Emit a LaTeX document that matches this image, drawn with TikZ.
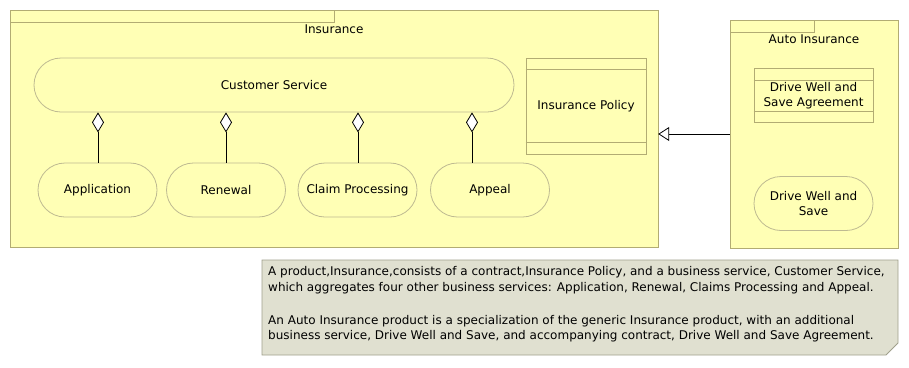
\documentclass[tikz,border=0pt]{standalone}
\usepackage{fontspec}
\setmainfont{DejaVu Sans}
\usetikzlibrary{arrows.meta,calc}
\definecolor{yfill}{RGB}{255,255,181}
\definecolor{yline}{RGB}{178,172,115}
\definecolor{oline}{RGB}{190,186,145}
\definecolor{nfill}{RGB}{224,224,208}
\definecolor{nline}{RGB}{160,160,140}
\tikzset{
  x=1pt, y=-1pt,
  every node/.style={font=\fontsize{12}{15}\selectfont, inner sep=0pt},
  frame/.style={draw=yline, fill=yfill, line width=0.8pt},
  svc/.style={draw=oline, fill=yfill, line width=0.8pt, rectangle, rounded corners=27pt, minimum height=54pt},
  contract/.style={draw=yline, fill=yfill, line width=0.8pt, rectangle},
  agg/.style={line width=0.8pt, {Diamond[open, fill=white, length=20pt, width=12pt]}-},
  gen/.style={line width=0.8pt, -{Triangle[open, fill=white, length=11pt, width=14pt]}},
  notebox/.style={draw=nline, fill=nfill, line width=0.8pt}
}
\begin{document}
\begin{tikzpicture}
\useasboundingbox (0,0) rectangle (909,367);
% Insurance frame
\draw[frame] (10,10) rectangle (658,247);
\draw[frame] (10,10) rectangle (334,22);
\node (ins) at (334,128.5) [minimum width=648pt, minimum height=237pt] {};
\node (inslbl) at (334,29) {Insurance};
% Auto insurance frame
\draw[frame] (730,20) rectangle (898,248);
\draw[frame] (730,20) rectangle (814,32);
\node (auto) at (814,134) [minimum width=168pt, minimum height=228pt] {};
\node (autolbl) at (814,39.5) {Auto Insurance};
% Customer service
\node[svc, minimum width=480pt] (cs) at (274,85) {\raisebox{-1pt}{Customer Service}};
% Sub services
\node[svc, minimum width=119pt] (app) at (97.5,190) {\raisebox{-1pt}{Application}};
\node[svc, minimum width=119pt] (ren) at (226,190) {\raisebox{-1pt}{Renewal}};
\node[svc, minimum width=119pt] (clm) at (357.5,190) {\raisebox{-1pt}{Claim Processing}};
\node[svc, minimum width=119pt] (apl) at (490,190) {\raisebox{-1pt}{Appeal}};
% Insurance Policy contract
\node[contract, minimum width=120pt, minimum height=96pt] (pol) at (586,106) {\raisebox{-1pt}{Insurance Policy}};
\draw[yline, line width=0.8pt] ([yshift=-12pt]pol.north west) -- ([yshift=-12pt]pol.north east);
\draw[yline, line width=0.8pt] ([yshift=12pt]pol.south west) -- ([yshift=12pt]pol.south east);
% Drive Well and Save Agreement
\node[contract, minimum width=119pt, minimum height=54pt, align=center] (agr) at (813.5,95.5) {Drive Well and\\Save Agreement};
\draw[yline, line width=0.8pt] ([yshift=-12pt]agr.north west) -- ([yshift=-12pt]agr.north east);
\draw[yline, line width=0.8pt] ([yshift=12pt]agr.south west) -- ([yshift=12pt]agr.south east);
% Drive Well and Save service
\node[svc, minimum width=119pt, align=center] (dws) at (813.5,203.5) {Drive Well and\\Save};
% Aggregations
\draw[agg] (cs.south -| 98,0) -- (app.north -| 98,0);
\draw[agg] (cs.south -| ren.north) -- (ren.north);
\draw[agg] (cs.south -| 358,0) -- (clm.north -| 358,0);
\draw[agg] (cs.south -| 472,0) -- (apl.north -| 472,0);
% Generalization
\draw[gen] (auto.west) -- (auto.west -| ins.east);
% Note
\draw[notebox] (262,260) -- (898,260) -- (898,343) -- (886,355) -- (262,355) -- cycle;
\node (note) [anchor=north west, align=left, inner sep=0pt, font=\fontsize{12}{15.2}\selectfont] at (268,266.5) {%
A product,Insurance,consists of a contract,Insurance Policy, and a business service, Customer Service,\\
which aggregates four other business services: Application, Renewal, Claims Processing and Appeal.\\[18pt]
An Auto Insurance product is a specialization of the generic Insurance product, with an additional\\
business service, Drive Well and Save, and accompanying contract, Drive Well and Save Agreement.};
\end{tikzpicture}
\end{document}
